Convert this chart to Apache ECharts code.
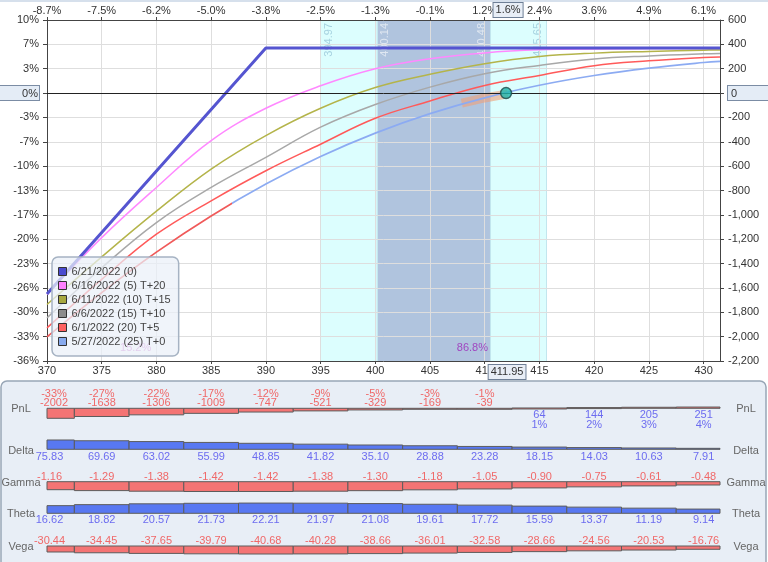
<!DOCTYPE html>
<html>
<head>
<meta charset="utf-8">
<script src="https://cdn.jsdelivr.net/npm/echarts@6/dist/echarts.min.js"></script>
<style>
html,body{margin:0;padding:0;background:#fff;}
#chart{width:768px;height:562px;}
</style>
</head>
<body>
<div id="chart"></div>
<script>
// 价格刻度 / 表格列
const prices = [370, 375, 380, 385, 390, 395, 400, 405, 410, 415, 420, 425, 430]
const topLabels = ['-8.7%', '-7.5%', '-6.2%', '-5.0%', '-3.8%', '-2.5%', '-1.3%', '-0.1%', '1.2%', '2.4%', '3.6%', '4.9%', '6.1%']
const leftLabels = ['10%', '7%', '3%', '0%', '-3%', '-7%', '-10%', '-13%', '-17%', '-20%', '-23%', '-26%', '-30%', '-33%', '-36%']

// 曲线 (最后一个点在图表右边缘)
const curvePrices = [370, 375, 380, 385, 390, 395, 400, 405, 410, 415, 420, 425, 430, 431.5]
const t20 = [-1653, -1187, -775, -390, -125, 60, 200, 282, 330, 355, 362, 365, 366, 366]
const t15 = [-1736, -1345, -970, -624, -349, -125, 45, 154, 241, 300, 328, 342, 352, 354]
const t10 = [-1846, -1434, -1063, -775, -528, -280, -94, 49, 159, 227, 280, 305, 322, 325]
const t5 = [-1928, -1530, -1159, -885, -638, -420, -207, -65, 63, 145, 225, 265, 292, 296]
const t0Edge = 260
const expiryPrices = [370, 390, 431.5]
const expiryValues = [-1650, 370, 370]

// 表格
const pnl = [-2002, -1638, -1306, -1009, -747, -521, -329, -169, -39, 64, 144, 205, 251]
const pnlPct = ['-33%', '-27%', '-22%', '-17%', '-12%', '-9%', '-5%', '-3%', '-1%', '1%', '2%', '3%', '4%']
const delta = [75.83, 69.69, 63.02, 55.99, 48.85, 41.82, 35.10, 28.88, 23.28, 18.15, 14.03, 10.63, 7.91]
const gamma = [-1.16, -1.29, -1.38, -1.42, -1.42, -1.38, -1.30, -1.18, -1.05, -0.90, -0.75, -0.61, -0.48]
const theta = [16.62, 18.82, 20.57, 21.73, 22.21, 21.97, 21.08, 19.61, 17.72, 15.59, 13.37, 11.19, 9.14]
const vega = [-30.44, -34.45, -37.65, -39.79, -40.68, -40.28, -38.66, -36.01, -32.58, -28.66, -24.56, -20.53, -16.76]

// 标准差区间
const sdLevels = [394.97, 400.14, 410.48, 415.65]
const currentPrice = 411.95
const currentPct = '1.6%'
const hlPrices = [407.9, 410, 412.1]
const hlValues = [-82, -40, -7]
const t0RedUntil = 387

const legendNames = ['6/21/2022 (0)', '6/16/2022 (5) T+20', '6/11/2022 (10) T+15', '6/6/2022 (15) T+10', '6/1/2022 (20) T+5', '5/27/2022 (25) T+0']
const legendColors = ['#4a4ad0', '#ff80ff', '#a8a840', '#8c8c8c', '#ff6060', '#88aaee']

const FONT = '"Liberation Sans", Arial, sans-serif'
const RED_TXT = '#f06868'
const BLUE_TXT = '#6c6cf0'

const chart = echarts.init(document.getElementById('chart'))

function commas(v){
  const s = String(Math.abs(v)).replace(/\B(?=(\d{3})+(?!\d))/g, ',')
  return (v < 0 ? '-' : '') + s
}

function pairs(xs, ys){
  return xs.map((x, i) => [x, ys[i]])
}

// 表格行 (custom 阶梯柱)
function rowSeries(idx, values, fill, label){
  return {
    type: 'custom',
    xAxisIndex: idx + 2,
    yAxisIndex: idx + 2,
    silent: true,
    data: prices.map((p, i) => [p, values[i], i]),
    renderItem: function(params, api){
      const p = api.value(0), v = api.value(1), i = api.value(2)
      const cs = params.coordSys
      const a = api.coord([p - 2.5, 0]), b = api.coord([p + 2.5, v])
      const x0 = Math.max(a[0], cs.x), x1 = Math.min(b[0], cs.x + cs.width)
      const y0 = Math.min(a[1], b[1])
      const h = Math.max(Math.abs(b[1] - a[1]), 1)
      const cx = api.coord([p, 0])[0] + (i === 0 ? label.first : 0)
      const base = a[1]
      const children = [{
        type: 'rect',
        shape: {x: x0, y: y0, width: x1 - x0, height: h},
        style: {fill: fill, stroke: '#5c5c5c', lineWidth: 1}
      }]
      label.items(v, i).forEach(t => {
        children.push({
          type: 'text',
          style: {text: t.text, x: cx, y: base + t.dy, fill: t.color, font: '11px ' + FONT,
            align: 'center', verticalAlign: 'middle', textAlign: 'center', textVerticalAlign: 'middle'}
        })
      })
      return {type: 'group', children: children}
    }
  }
}

const panelGrids = [
  {top: 398.3, height: 20, min: -2000, max: 2000},
  {top: 440.1, height: 18.4, min: -75, max: 75},
  {top: 471.7, height: 20, min: -1.45, max: 1.45},
  {top: 503.3, height: 20, min: -21.7, max: 21.7},
  {top: 538, height: 16, min: -40.68, max: 40.68}
]

const axisLineStyle = {onZero: false, lineStyle: {color: '#444', width: 1}}
const splitStyle = {show: true, lineStyle: {color: '#dedede', width: 1}}

let option = {
  animation: false,
  textStyle: {fontFamily: FONT},
  grid: [{left: 47, right: 48, top: 20, bottom: 201, outerBoundsMode: 'none', containLabel: false}].concat(
    panelGrids.map(g => ({left: 47, right: 48, top: g.top, height: g.height, outerBoundsMode: 'none'}))
  ),
  xAxis: [
    {
      type: 'value', gridIndex: 0, position: 'bottom', min: 370, max: 431.5, interval: 5,
      axisLine: axisLineStyle, axisTick: {show: true, length: 3, lineStyle: {color: '#444'}},
      axisLabel: {color: '#333', fontSize: 11, margin: 4, showMaxLabel: false},
      splitLine: splitStyle
    },
    {
      type: 'value', gridIndex: 0, position: 'top', min: 370, max: 431.5, interval: 5,
      axisLine: axisLineStyle, axisTick: {show: true, length: 3, lineStyle: {color: '#444'}},
      axisLabel: {color: '#333', fontSize: 11, margin: 4, showMaxLabel: false,
        formatter: v => topLabels[Math.round((v - 370) / 5)] || ''},
      splitLine: {show: false}
    }
  ].concat(panelGrids.map((g, i) => ({
    type: 'value', gridIndex: i + 1, min: 370, max: 431.5, show: false
  }))),
  yAxis: [
    {
      type: 'value', gridIndex: 0, position: 'right', min: -2200, max: 600, interval: 200,
      axisLine: {show: true, onZero: false, lineStyle: {color: '#444'}},
      axisTick: {show: true, length: 4, lineStyle: {color: '#444'}},
      axisLabel: {color: '#333', fontSize: 11, margin: 8,
        formatter: v => v === 0 ? '{box|0}' : commas(v),
        rich: {box: {backgroundColor: '#e4ecf6', borderColor: '#7b8ca4', borderWidth: 1,
          padding: [2, 40, 1, 3], color: '#333', fontSize: 11}}},
      splitLine: splitStyle
    },
    {
      type: 'value', gridIndex: 0, position: 'left', min: -2200, max: 600, interval: 200,
      axisLine: {show: true, onZero: false, lineStyle: {color: '#444'}},
      axisTick: {show: true, length: 4, lineStyle: {color: '#444'}},
      axisLabel: {color: '#333', fontSize: 11, margin: 8,
        formatter: v => {
          const t = leftLabels[Math.round((600 - v) / 200)] || ''
          return v === 0 ? '{box|' + t + '}' : t
        },
        rich: {box: {backgroundColor: '#e4ecf6', borderColor: '#7b8ca4', borderWidth: 1,
          padding: [2, 1, 1, 26], color: '#333', fontSize: 11}}},
      splitLine: {show: false}
    }
  ].concat(panelGrids.map((g, i) => ({
    type: 'value', gridIndex: i + 1, min: g.min, max: g.max, show: false
  }))),
  legend: {
    orient: 'vertical', left: 52, top: 257,
    itemWidth: 8, itemHeight: 8, itemGap: 1,
    padding: [8, 8, 8, 6],
    backgroundColor: 'rgba(234,240,248,0.72)',
    borderColor: '#a6b3c3', borderWidth: 1.5, borderRadius: 6,
    icon: 'rect', z: 8,
    textStyle: {color: '#444', fontSize: 11, fontFamily: FONT, lineHeight: 13},
    selectedMode: false,
    data: legendNames.map((n, i) => ({name: n, itemStyle: {color: legendColors[i], borderColor: '#333', borderWidth: 1}}))
  },
  series: [
    {
      type: 'line', name: 'bands', data: [[370, null]], z: -2, silent: true,
      markArea: {
        silent: true, z: -2,
        data: [
          [{xAxis: sdLevels[0], itemStyle: {color: '#dcfefe'}}, {xAxis: sdLevels[3]}],
          [{xAxis: sdLevels[1], itemStyle: {color: '#b0c4de'}}, {xAxis: sdLevels[2]}]
        ]
      }
    },
    {
      type: 'line', name: 'sd', data: [[370, null]], z: -1, silent: true,
      markLine: {
        silent: true, symbol: 'none', z: -1,
        lineStyle: {color: '#c2e6ee', width: 1, type: 'solid'},
        data: sdLevels.map((lv, i) => ({
          xAxis: lv,
          label: {
            show: true, formatter: lv.toFixed(2), fontSize: 11, distance: 3,
            position: i < 2 ? 'insideEndBottom' : 'insideEndTop',
            color: (i === 1 || i === 2) ? '#dfe7f1' : '#a6d2e0'
          }
        }))
      }
    },
    {
      type: 'line', name: legendNames[1], data: pairs(curvePrices, t20), smooth: 0.4,
      showSymbol: false, lineStyle: {color: '#ff88ff', width: 1.5}, itemStyle: {color: '#ff88ff'}
    },
    {
      type: 'line', name: legendNames[2], data: pairs(curvePrices, t15), smooth: 0.4,
      showSymbol: false, lineStyle: {color: '#b4b44a', width: 1.5}, itemStyle: {color: '#b4b44a'}
    },
    {
      type: 'line', name: legendNames[3], data: pairs(curvePrices, t10), smooth: 0.4,
      showSymbol: false, lineStyle: {color: '#a8a8a8', width: 1.5}, itemStyle: {color: '#a8a8a8'}
    },
    {
      type: 'line', name: legendNames[4], data: pairs(curvePrices, t5), smooth: 0.4,
      showSymbol: false, lineStyle: {color: '#ff5a5a', width: 1.5}, itemStyle: {color: '#ff5a5a'}
    },
    {
      type: 'line', name: 'hl', data: pairs(hlPrices, hlValues), showSymbol: false, silent: true,
      lineStyle: {color: 'rgba(240,160,120,0.6)', width: 9, cap: 'butt'}
    },
    {
      type: 'line', name: legendNames[5], data: pairs(curvePrices, pnl.concat([t0Edge])), smooth: 0.4,
      showSymbol: false, lineStyle: {width: 1.7, color: '#8cabf2'}, itemStyle: {color: '#8cabf2'}
    },
    {
      type: 'line', name: legendNames[0], data: pairs(expiryPrices, expiryValues), z: 3,
      showSymbol: false, lineStyle: {color: '#5555d0', width: 3}, itemStyle: {color: '#5555d0'},
      markLine: {
        silent: true, symbol: 'none', label: {show: false},
        lineStyle: {color: '#222', width: 1, type: 'solid'},
        data: [{yAxis: 0}]
      }
    },
    {
      type: 'scatter', name: 'now', data: [[currentPrice, 0]], symbolSize: 11, z: 6, silent: true,
      itemStyle: {color: '#1fb5ad', borderColor: '#1d4848', borderWidth: 1.5}
    },
    rowSeries(0, pnl, '#f47474', {
      first: 7,
      items: (v, i) => v < 0
        ? [{text: pnlPct[i], dy: -14.5, color: RED_TXT}, {text: String(v), dy: -5, color: RED_TXT}]
        : [{text: String(v), dy: 7, color: BLUE_TXT}, {text: pnlPct[i], dy: 17, color: BLUE_TXT}]
    }),
    rowSeries(1, delta, '#5878f2', {first: 2.5, items: v => [{text: v.toFixed(2), dy: 7.4, color: BLUE_TXT}]}),
    rowSeries(2, gamma, '#f47474', {first: 2.5, items: v => [{text: v.toFixed(2), dy: -5, color: RED_TXT}]}),
    rowSeries(3, theta, '#5878f2', {first: 2.5, items: v => [{text: v.toFixed(2), dy: 6.7, color: BLUE_TXT}]}),
    rowSeries(4, vega, '#f47474', {first: 2.5, items: v => [{text: v.toFixed(2), dy: -5.3, color: RED_TXT}]})
  ]
}

// 静态图形: 下方面板背景 + 行标题
const rowNames = ['PnL', 'Delta', 'Gamma', 'Theta', 'Vega']
const rowY = [409, 450.7, 483, 514, 546.7]
function txt(id, text, x, y, color, extra){
  return {
    type: 'text', id: id, z: 1,
    style: Object.assign({text: text, x: x, y: y, fill: color, font: '11px ' + FONT,
      align: 'center', verticalAlign: 'middle', textAlign: 'center', textVerticalAlign: 'middle'}, extra || {})
  }
}
let graphics = [
  {type: 'rect', id: 'topstrip', z: 0, shape: {x: 0, y: 0, width: 768, height: 2}, style: {fill: '#d6e0ec'}},
  {type: 'rect', id: 'panel', z: -5, shape: {x: 1, y: 381, width: 765, height: 200, r: 6},
    style: {fill: '#e8eef6', stroke: '#98a6b6', lineWidth: 1.5}}
]
rowNames.forEach((n, i) => {
  graphics.push(txt('l' + i, n, 21, rowY[i], '#666'))
  graphics.push(txt('r' + i, n, 746, rowY[i], '#666'))
})
option.graphic = graphics

chart.setOption(option)

// 依赖坐标的标注
const toX = v => chart.convertToPixel({xAxisIndex: 0}, v)
const cx = toX(currentPrice)
const boxStyle = {backgroundColor: '#e8eef6', borderColor: '#6e7f96', borderWidth: 1, padding: [2, 2, 1, 2]}
chart.setOption({
  graphic: [
    txt('pctBox', currentPct, cx + 2, 10, '#333', boxStyle),
    txt('priceBox', currentPrice.toFixed(2), cx + 1, 372, '#333', boxStyle),
    txt('p868', '86.8%', toX(sdLevels[2]) - 2, 348, '#a046c0', {align: 'right', textAlign: 'right'}),
    txt('p152', '15.2%', toX(378.1), 348, '#d27ad2')
  ]
})

// T+0 左段红色: 按价格轴把线条着色
const redEnd = (toX(t0RedUntil) - toX(370)) / (toX(431.5) - toX(370))
chart.setOption({
  series: [{}, {}, {}, {}, {}, {}, {}, {
    lineStyle: {
      color: new echarts.graphic.LinearGradient(0, 0, 1, 0, [
        {offset: 0, color: '#f05a5a'}, {offset: redEnd, color: '#f05a5a'},
        {offset: redEnd, color: '#8cabf2'}, {offset: 1, color: '#8cabf2'}
      ])
    }
  }]
})

window.addEventListener('resize', () => chart.resize())
</script>
</body>
</html>
